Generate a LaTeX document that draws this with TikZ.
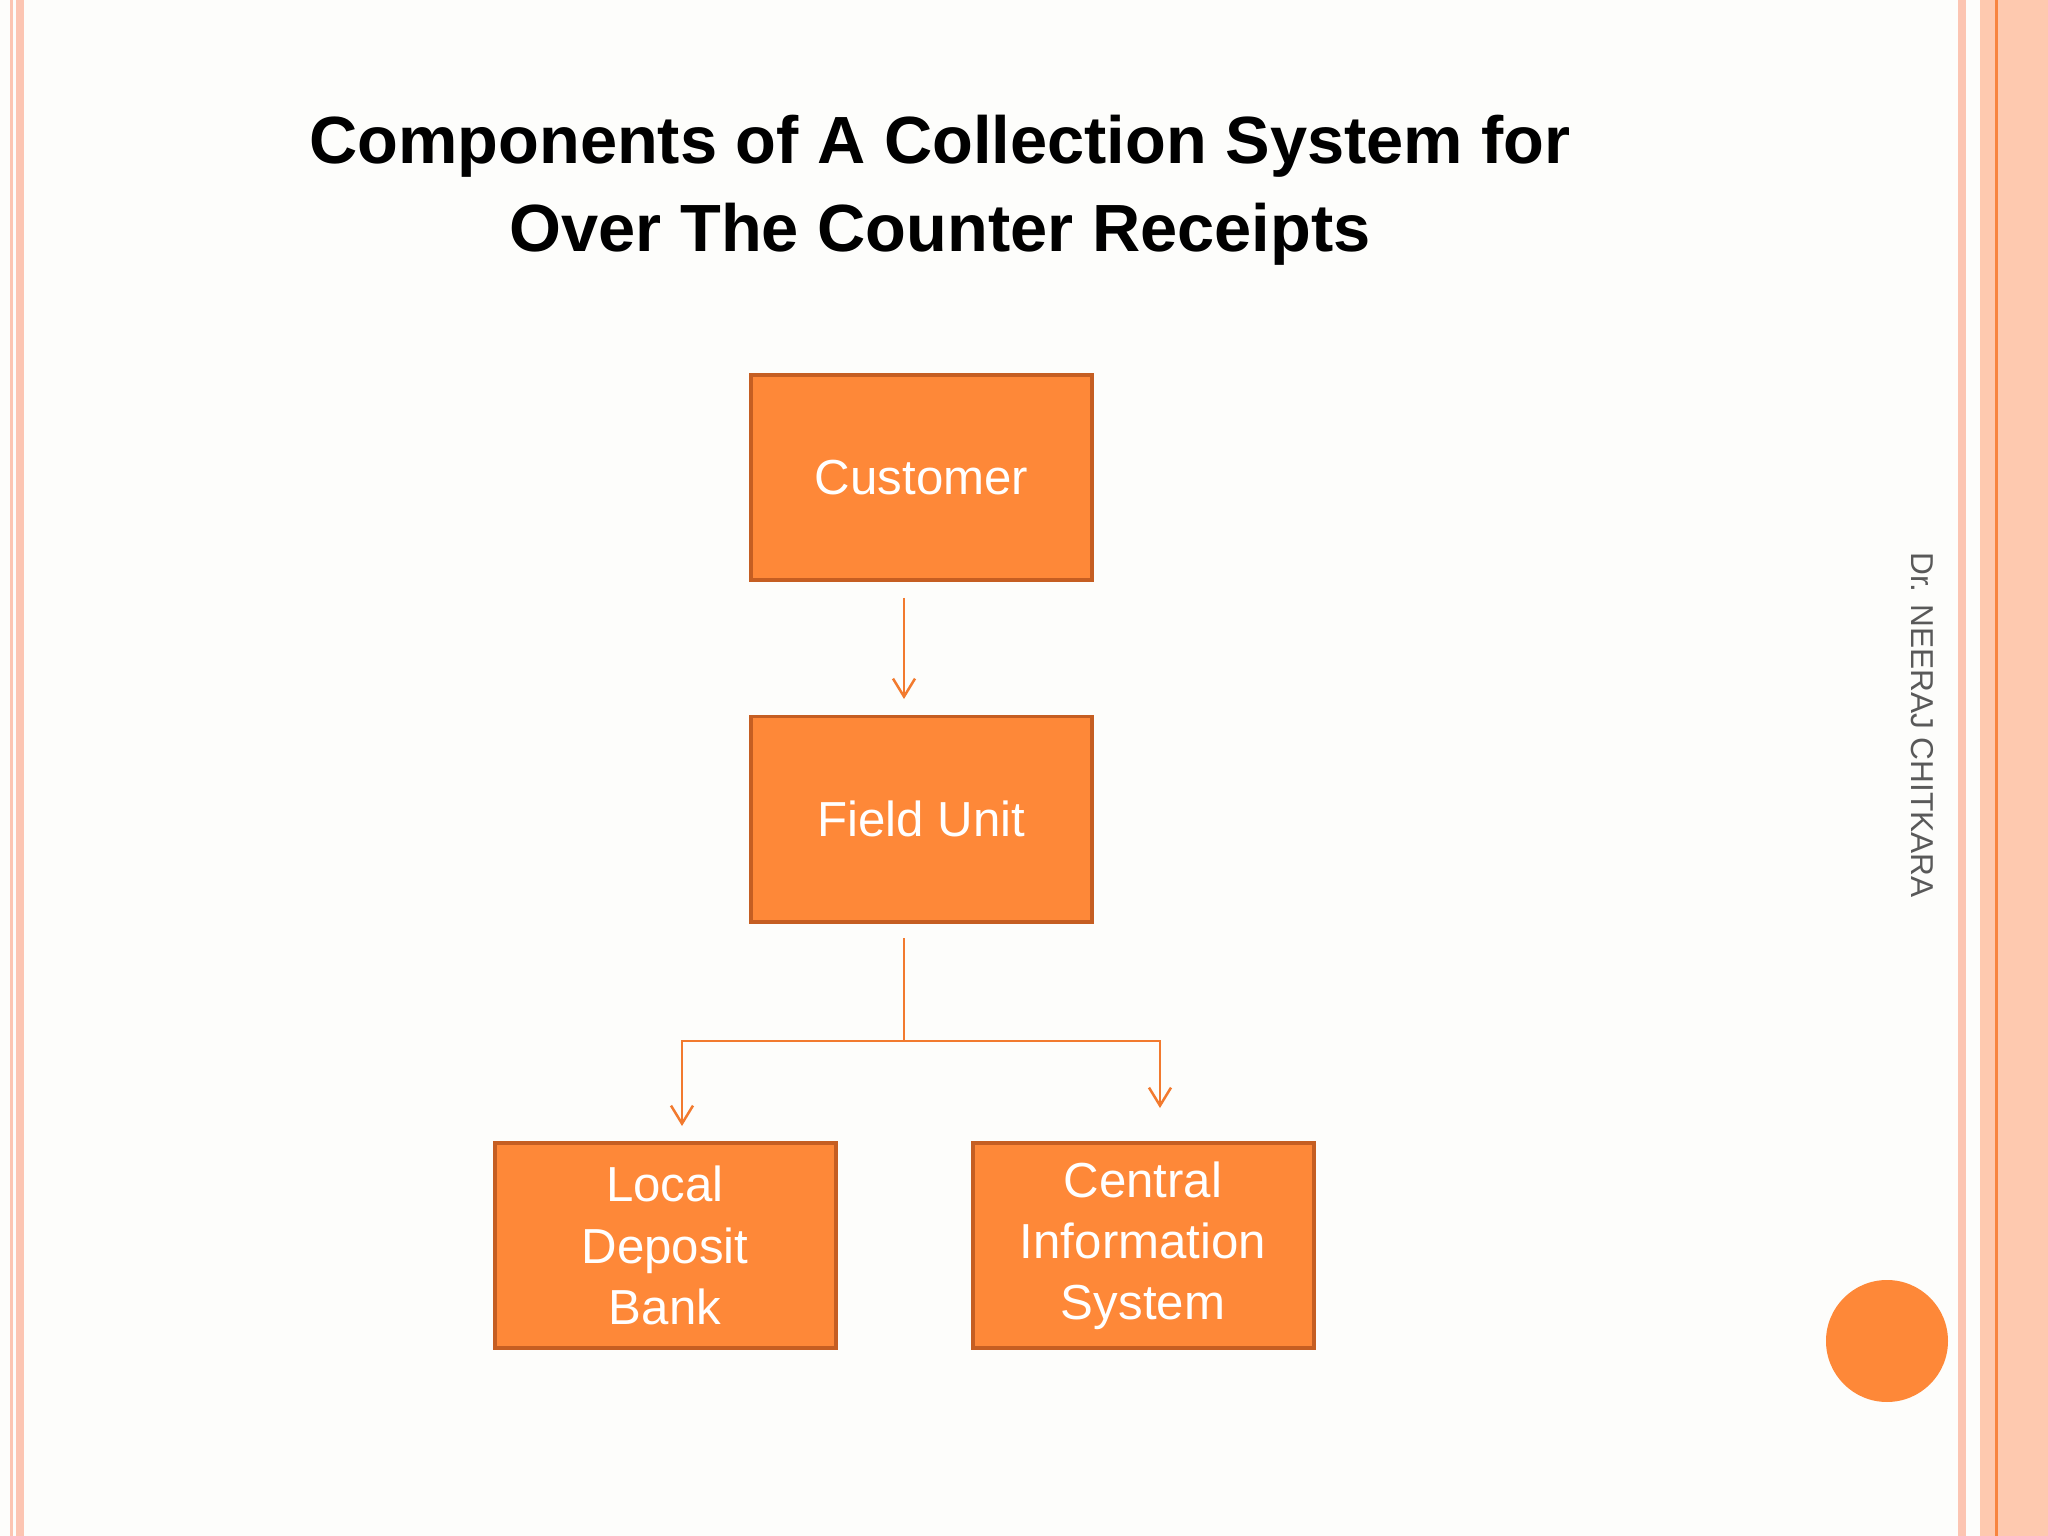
\documentclass[tikz,border=0pt]{standalone}
\usepackage{fontspec}
\setmainfont{Liberation Sans}
\definecolor{bg}{HTML}{FDFDFB}
\definecolor{boxf}{HTML}{FE8838}
\definecolor{boxd}{HTML}{C55E22}
\definecolor{arr}{HTML}{F27A2E}
\definecolor{pinkl}{HTML}{FCC5B2}
\definecolor{salm}{HTML}{FEC9AF}
\definecolor{orl}{HTML}{F8843F}
\tikzset{
 box/.style={draw=boxd, line width=0.04cm, fill=boxf, minimum width=3.41cm, minimum height=2.05cm, text=white, font=\fontsize{14}{17.4}\selectfont, align=center, inner sep=0pt},
 conn/.style={draw=arr, line width=0.025cm},
 tip/.style={-{Straight Barb[length=0.18cm,width=0.22cm]}}
}
\usetikzlibrary{arrows.meta}
\begin{document}
\begin{tikzpicture}[x=1cm,y=-1cm]
\useasboundingbox (0,0) rectangle (20.48,15.36);
\fill[bg] (0,0) rectangle (20.48,15.36);
% side stripes
\fill[pinkl] (0.10,0) rectangle (0.13,15.36);
\fill[pinkl] (0.16,0) rectangle (0.24,15.36);
\fill[pinkl] (19.58,0) rectangle (19.66,15.36);
\fill[salm] (19.80,0) rectangle (20.48,15.36);
\fill[orl] (19.95,0) rectangle (19.98,15.36);
% title
\node[font=\bfseries\fontsize{19}{25}\selectfont, align=center] (title) at (9.40,1.90) {Components of A Collection System for\\Over The Counter Receipts};
% boxes
\node[box] (cust) at (9.215,4.775) {Customer};
\node[box] (field) at (9.215,8.19) {Field Unit};
\node[box] (local) at (6.65,12.455) {Local\\Deposit\\Bank};
\node[box] (central) at (11.43,12.455) {Central\\Information\\System};
% connectors
\coordinate (a1) at (9.04,5.98);
\coordinate (a2) at (9.04,6.99);
\draw[conn,tip] (a1) -- (a2);
\coordinate (f1) at (9.04,9.38);
\coordinate (f2) at (9.04,10.41);
\coordinate (l1) at (6.82,10.41);
\coordinate (l2) at (6.82,11.26);
\coordinate (r1) at (11.60,10.41);
\coordinate (r2) at (11.60,11.08);
\draw[conn] (f1) -- (f2);
\draw[conn,tip] (f2) -- (l1) -- (l2);
\draw[conn,tip] (f2) -- (r1) -- (r2);
% side text
\node[rotate=-90, text=black!65, font=\fontsize{9}{11}\selectfont] (author) at (19.22,7.25) {Dr. NEERAJ CHITKARA};
% circle
\fill[boxf] (18.87,13.41) circle (0.61);
\end{tikzpicture}
\end{document}
